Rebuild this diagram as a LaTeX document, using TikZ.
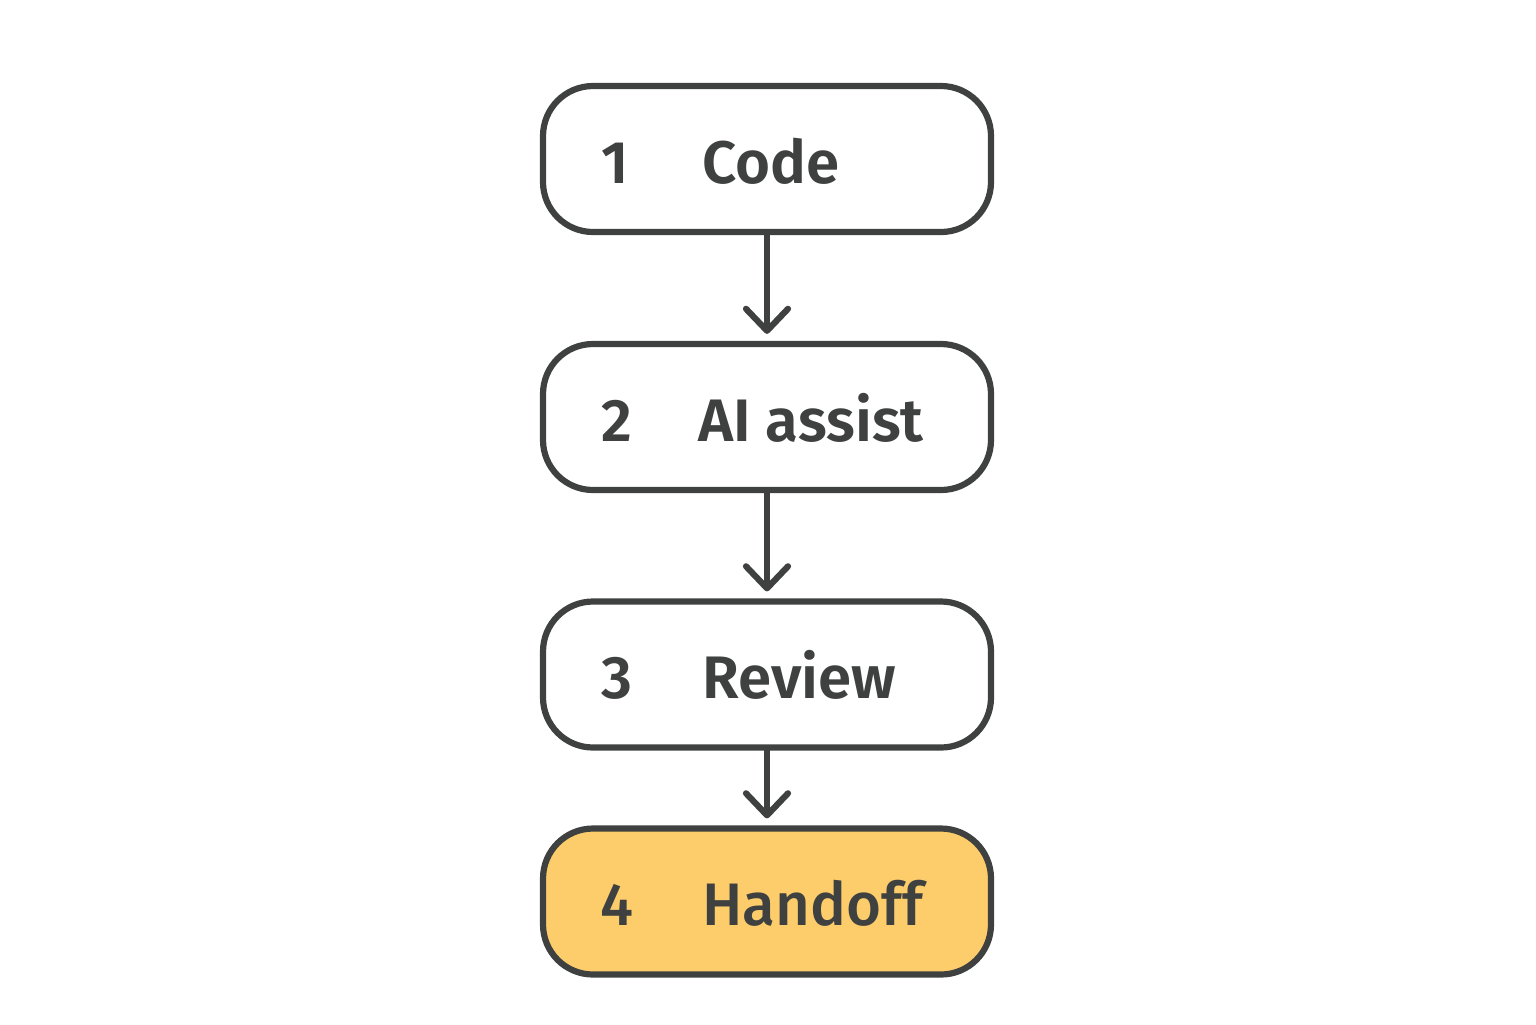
\documentclass[tikz,border=0pt]{standalone}
\usepackage{fontspec}
\setmainfont{Fira Sans}[BoldFont={Fira Sans SemiBold}]
\newfontfamily\medfont{Fira Sans Medium}
\usetikzlibrary{arrows.meta}
\definecolor{ink}{HTML}{3F4140}
\definecolor{gold}{HTML}{FCCD6A}
\begin{document}
\begin{tikzpicture}[x=0.5pt,y=-0.5pt,
  stepbox/.style={draw=ink, line width=3.1pt, rounded corners=25pt, minimum width=224pt, minimum height=73pt, fill=white, inner sep=0pt},
  num/.style={font=\fontsize{30}{34}\selectfont\bfseries, text=ink, anchor=base, inner sep=0pt},
  lbl/.style={font=\fontsize{30}{34}\selectfont\bfseries, text=ink, anchor=base west, inner sep=0pt},
  arr/.style={draw=ink, line width=3.1pt, line cap=round, -{Straight Barb[length=11pt, width=21pt, line cap=round, line join=round]}, shorten >=3.5pt}]
\useasboundingbox (0,0) rectangle (1536,1024);
\node[stepbox] (b1) at (767,159) {};
\node[stepbox] (b2) at (767,417) {};
\node[stepbox] (b3) at (767,674.5) {};
\node[stepbox, fill=gold] (b4) at (767,901.5) {};
\node[num] (n1) at (615,183) {1};
\node[lbl] (t1) at (702,183) {Code};
\node[num] (n2) at (617,441) {2};
\node[lbl] (t2) at (698,441) {AI assist};
\node[num] (n3) at (617,698) {3};
\node[lbl] (t3) at (702,698) {Review};
\node[num, font=\fontsize{30}{34}\medfont] (n4) at (617,925) {4};
\node[lbl, font=\fontsize{30}{34}\medfont] (t4) at (702,925) {Handoff};
\draw[arr] (b1.south) -- (b2.north);
\draw[arr] (b2.south) -- (b3.north);
\draw[arr] (b3.south) -- (b4.north);
\end{tikzpicture}
\end{document}
